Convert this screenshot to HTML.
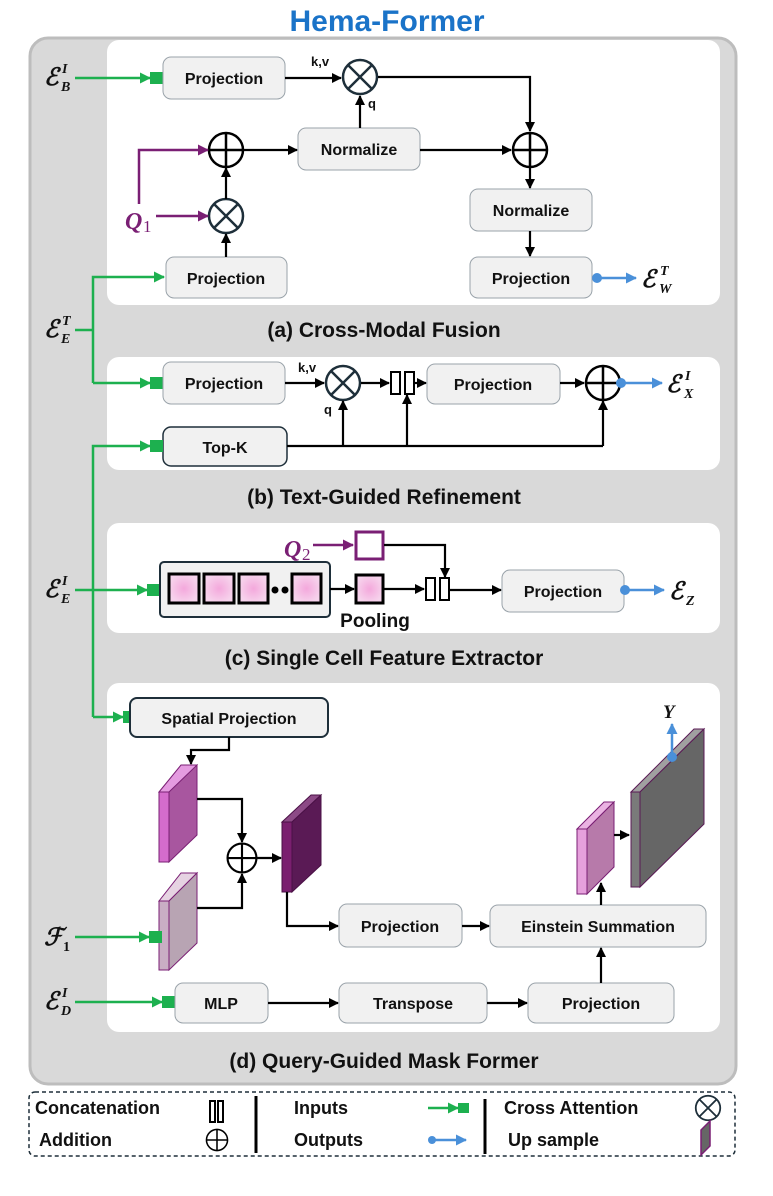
<!DOCTYPE html>
<html><head><meta charset="utf-8"><style>
html,body{margin:0;padding:0;background:#fff}
svg{display:block}
.b{font-family:"Liberation Sans",sans-serif;font-weight:bold;font-size:16px;fill:#111}
.t{font-family:"Liberation Sans",sans-serif;font-weight:bold;font-size:21px;fill:#111}
.m{font-family:"Liberation Serif",serif;font-weight:bold;font-style:italic;font-size:24px;fill:#111}
.ms{font-family:"Liberation Serif",serif;font-weight:bold;font-style:italic;font-size:14px;fill:#111}
.box{fill:#f1f1f1;stroke:#9aa3aa;stroke-width:1}
.ln{stroke:#000;stroke-width:2.2;fill:none}
.g{stroke:#1db04f;stroke-width:2.5;fill:none}
.p{stroke:#7a1f74;stroke-width:2.5;fill:none}
.bl{stroke:#4a90d9;stroke-width:2.5;fill:none}
</style></head><body>
<svg width="773" height="1196" viewBox="0 0 773 1196" xmlns="http://www.w3.org/2000/svg">
<defs>
<marker id="ak" markerWidth="10" markerHeight="10" refX="9" refY="5" orient="auto" markerUnits="userSpaceOnUse"><path d="M0,0L10,5L0,10z" fill="#000"/></marker>
<marker id="ag" markerWidth="11" markerHeight="11" refX="10" refY="5.5" orient="auto" markerUnits="userSpaceOnUse"><path d="M0,0L11,5.5L0,11z" fill="#1db04f"/></marker>
<marker id="ap" markerWidth="11" markerHeight="11" refX="10" refY="5.5" orient="auto" markerUnits="userSpaceOnUse"><path d="M0,0L11,5.5L0,11z" fill="#7a1f74"/></marker>
<marker id="ab" markerWidth="11" markerHeight="11" refX="10" refY="5.5" orient="auto" markerUnits="userSpaceOnUse"><path d="M0,0L11,5.5L0,11z" fill="#4a90d9"/></marker>
<radialGradient id="pk"><stop offset="0" stop-color="#f4a8dc"/><stop offset="1" stop-color="#f6d3ec"/></radialGradient>
<g id="otimes"><circle r="17" fill="none" stroke="#1e2f3a" stroke-width="2.5"/><path d="M-12,-12L12,12M12,-12L-12,12" stroke="#1e2f3a" stroke-width="2.5"/></g>
<g id="oplus"><circle r="17" fill="none" stroke="#000" stroke-width="2.5"/><path d="M-17,0H17M0,-17V17" stroke="#000" stroke-width="2.5"/></g>
<g id="cat"><rect x="0" y="0" width="9" height="22" fill="#fff" stroke="#000" stroke-width="2"/><rect x="14" y="0" width="9" height="22" fill="#fff" stroke="#000" stroke-width="2"/></g>
<rect id="gs" width="13" height="12" fill="#1db04f"/>
</defs>

<text x="387" y="31" text-anchor="middle" style="font-family:'Liberation Sans',sans-serif;font-weight:bold;font-size:30px;fill:#1a73c8">Hema-Former</text>
<rect x="30" y="38" width="706" height="1046" rx="18" fill="#d9d9d9" stroke="#bdbdbd" stroke-width="3"/>

<rect x="107" y="40" width="613" height="265" rx="12" fill="#fff"/>
<rect x="107" y="357" width="613" height="113" rx="12" fill="#fff"/>
<rect x="107" y="523" width="613" height="110" rx="12" fill="#fff"/>
<rect x="107" y="683" width="613" height="349" rx="12" fill="#fff"/>
<text class="t" x="384" y="337" text-anchor="middle">(a) Cross-Modal Fusion</text>
<text class="t" x="384" y="504" text-anchor="middle">(b) Text-Guided Refinement</text>
<text class="t" x="384" y="665" text-anchor="middle">(c) Single Cell Feature Extractor</text>
<text class="t" x="384" y="1068" text-anchor="middle">(d) Query-Guided Mask Former</text>

<!-- panel a -->
<text class="m" x="44" y="85">ℰ</text><text class="ms" x="62" y="73">I</text><text class="ms" x="61" y="91">B</text>
<line class="g" x1="75" y1="78" x2="150" y2="78" marker-end="url(#ag)"/>
<use href="#gs" x="150" y="72"/>
<rect class="box" x="163" y="57" width="122" height="42" rx="8"/>
<text class="b" x="224" y="84" text-anchor="middle">Projection</text>
<line class="ln" x1="285" y1="78" x2="341" y2="78" marker-end="url(#ak)"/>
<text class="b" x="311" y="66" style="font-size:13px">k,v</text>
<use href="#otimes" x="360" y="77"/>
<rect class="box" x="298" y="128" width="122" height="42" rx="8"/>
<text class="b" x="359" y="155" text-anchor="middle">Normalize</text>
<line class="ln" x1="360" y1="128" x2="360" y2="96" marker-end="url(#ak)"/>
<text class="b" x="368" y="108" style="font-size:13px">q</text>
<use href="#oplus" x="226" y="150"/>
<line class="ln" x1="243" y1="150" x2="297" y2="150" marker-end="url(#ak)"/>
<use href="#otimes" x="226" y="216"/>
<line class="ln" x1="226" y1="199" x2="226" y2="168" marker-end="url(#ak)"/>
<rect class="box" x="166" y="257" width="121" height="41" rx="8"/>
<text class="b" x="226" y="284" text-anchor="middle">Projection</text>
<line class="ln" x1="226" y1="257" x2="226" y2="234" marker-end="url(#ak)"/>
<text class="m" x="125" y="229" style="fill:#7a1f74">Q</text><text x="143" y="232" style="font-family:'Liberation Serif',serif;font-size:17px;fill:#7a1f74">1</text>
<line class="p" x1="156" y1="216" x2="208" y2="216" marker-end="url(#ap)"/>
<polyline class="p" points="139,204 139,150 208,150" marker-end="url(#ap)"/>
<polyline class="ln" points="378,77 530,77 530,131" marker-end="url(#ak)"/>
<line class="ln" x1="420" y1="150" x2="511" y2="150" marker-end="url(#ak)"/>
<use href="#oplus" x="530" y="150"/>
<line class="ln" x1="530" y1="167" x2="530" y2="188" marker-end="url(#ak)"/>
<rect class="box" x="470" y="189" width="122" height="42" rx="8"/>
<text class="b" x="531" y="216" text-anchor="middle">Normalize</text>
<line class="ln" x1="530" y1="231" x2="530" y2="256" marker-end="url(#ak)"/>
<rect class="box" x="470" y="257" width="122" height="41" rx="8"/>
<text class="b" x="531" y="284" text-anchor="middle">Projection</text>
<circle cx="597" cy="278" r="5" fill="#4a90d9"/>
<line class="bl" x1="597" y1="278" x2="636" y2="278" marker-end="url(#ab)"/>
<text class="m" x="641" y="287">ℰ</text><text class="ms" x="660" y="275">T</text><text class="ms" x="659" y="293">W</text>

<text class="m" x="44" y="337">ℰ</text><text class="ms" x="62" y="325">T</text><text class="ms" x="61" y="343">E</text>
<polyline class="g" points="75,330 93,330"/>
<polyline class="g" points="93,383 93,277 164,277" marker-end="url(#ag)"/>

<!-- panel b -->
<line class="g" x1="93" y1="383" x2="150" y2="383" marker-end="url(#ag)"/>
<use href="#gs" x="150" y="377"/>
<rect class="box" x="163" y="362" width="122" height="42" rx="8"/>
<text class="b" x="224" y="389" text-anchor="middle">Projection</text>
<line class="ln" x1="285" y1="383" x2="324" y2="383" marker-end="url(#ak)"/>
<text class="b" x="298" y="372" style="font-size:13px">k,v</text>
<use href="#otimes" x="343" y="383"/>
<text class="b" x="324" y="414" style="font-size:13px">q</text>
<line class="ln" x1="361" y1="383" x2="389" y2="383" marker-end="url(#ak)"/>
<use href="#cat" x="391" y="372"/>
<line class="ln" x1="414" y1="383" x2="426" y2="383" marker-end="url(#ak)"/>
<rect class="box" x="427" y="364" width="133" height="40" rx="8"/>
<text class="b" x="493" y="390" text-anchor="middle">Projection</text>
<line class="ln" x1="560" y1="383" x2="584" y2="383" marker-end="url(#ak)"/>
<use href="#oplus" x="603" y="383"/>
<circle cx="621" cy="383" r="5" fill="#4a90d9"/>
<line class="bl" x1="621" y1="383" x2="662" y2="383" marker-end="url(#ab)"/>
<text class="m" x="666" y="392">ℰ</text><text class="ms" x="685" y="380">I</text><text class="ms" x="684" y="398">X</text>
<rect class="box" x="163" y="427" width="124" height="39" rx="8" style="stroke:#1e2f3a;stroke-width:1.5"/>
<text class="b" x="225" y="453" text-anchor="middle">Top-K</text>
<line class="ln" x1="287" y1="446" x2="603" y2="446"/>
<line class="ln" x1="343" y1="446" x2="343" y2="401" marker-end="url(#ak)"/>
<line class="ln" x1="407" y1="446" x2="407" y2="395" marker-end="url(#ak)"/>
<line class="ln" x1="603" y1="446" x2="603" y2="401" marker-end="url(#ak)"/>
<polyline class="g" points="93,717 93,446 150,446" marker-end="url(#ag)"/>
<use href="#gs" x="150" y="440"/>

<!-- panel c -->
<text class="m" x="44" y="597">ℰ</text><text class="ms" x="62" y="585">I</text><text class="ms" x="61" y="603">E</text>
<line class="g" x1="75" y1="590" x2="147" y2="590" marker-end="url(#ag)"/>
<use href="#gs" x="147" y="584"/>
<rect x="160" y="562" width="170" height="55" rx="4" fill="#f1f1f1" stroke="#1e2f3a" stroke-width="2"/>
<rect x="169" y="574" width="30" height="29" fill="url(#pk)" stroke="#000" stroke-width="3"/>
<rect x="204" y="574" width="30" height="29" fill="url(#pk)" stroke="#000" stroke-width="3"/>
<rect x="239" y="574" width="29" height="29" fill="url(#pk)" stroke="#000" stroke-width="3"/>
<circle cx="275" cy="590" r="3.5" fill="#000"/><circle cx="285" cy="590" r="3.5" fill="#000"/>
<rect x="292" y="574" width="29" height="29" fill="url(#pk)" stroke="#000" stroke-width="3"/>
<line class="ln" x1="330" y1="589" x2="354" y2="589" marker-end="url(#ak)"/>
<rect x="356" y="575" width="27" height="28" fill="url(#pk)" stroke="#000" stroke-width="3"/>
<text class="b" x="375" y="627" text-anchor="middle" style="font-size:19px">Pooling</text>
<line class="ln" x1="384" y1="589" x2="424" y2="589" marker-end="url(#ak)"/>
<use href="#cat" x="426" y="578"/>
<text class="m" x="284" y="557" style="fill:#7a1f74">Q</text><text x="302" y="560" style="font-family:'Liberation Serif',serif;font-size:17px;fill:#7a1f74">2</text>
<line class="p" x1="313" y1="545" x2="353" y2="545" marker-end="url(#ap)"/>
<rect x="356" y="532" width="27" height="27" fill="#fff" stroke="#7a1f74" stroke-width="3"/>
<polyline class="ln" points="384,545 445,545 445,577" marker-end="url(#ak)"/>
<line class="ln" x1="450" y1="590" x2="501" y2="590" marker-end="url(#ak)"/>
<rect class="box" x="502" y="570" width="122" height="42" rx="8"/>
<text class="b" x="563" y="597" text-anchor="middle">Projection</text>
<circle cx="625" cy="590" r="5" fill="#4a90d9"/>
<line class="bl" x1="625" y1="590" x2="664" y2="590" marker-end="url(#ab)"/>
<text class="m" x="669" y="599">ℰ</text><text class="ms" x="686" y="605">Z</text>

<!-- panel d -->
<line class="g" x1="93" y1="717" x2="123" y2="717" marker-end="url(#ag)"/>
<use href="#gs" x="123" y="711"/>
<rect x="130" y="698" width="198" height="39" rx="7" fill="#f1f1f1" stroke="#1e2f3a" stroke-width="2"/>
<text class="b" x="229" y="724" text-anchor="middle">Spatial Projection</text>
<polyline class="ln" points="229,737 229,750 191,750 191,764" marker-end="url(#ak)"/>
<polygon points="159,792 181,765 197,765 175,792" fill="#e49be0" stroke="#7a1f74"/>
<polygon points="169,792 197,765 197,835 169,862" fill="#a8569f" stroke="#7a1f74"/>
<rect x="159" y="792" width="10" height="70" fill="#d46ccc" stroke="#7a1f74"/>
<polygon points="159,901 181,873 197,873 169,901" fill="#e6d3e2" stroke="#7a1f74"/>
<polygon points="169,901 197,873 197,943 169,970" fill="#b8a4b3" stroke="#7a1f74"/>
<rect x="159" y="901" width="10" height="69" fill="#c9aec4" stroke="#7a1f74"/>
<g transform="translate(242,858) scale(0.85)"><use href="#oplus"/></g>
<polyline class="ln" points="197,799 242,799 242,842" marker-end="url(#ak)"/>
<polyline class="ln" points="197,908 242,908 242,874" marker-end="url(#ak)"/>
<line class="ln" x1="256" y1="858" x2="281" y2="858" marker-end="url(#ak)"/>
<polygon points="282,822 311,795 321,795 292,822" fill="#8c4a86" stroke="#4a1046"/>
<polygon points="292,822 321,795 321,865 292,892" fill="#5a1a55" stroke="#4a1046"/>
<rect x="282" y="822" width="10" height="70" fill="#7a1f6f" stroke="#4a1046"/>
<polyline class="ln" points="287,892 287,926 338,926" marker-end="url(#ak)"/>
<rect class="box" x="339" y="904" width="123" height="43" rx="8"/>
<text class="b" x="400" y="932" text-anchor="middle">Projection</text>
<line class="ln" x1="462" y1="926" x2="489" y2="926" marker-end="url(#ak)"/>
<rect class="box" x="490" y="905" width="216" height="42" rx="8"/>
<text class="b" x="598" y="932" text-anchor="middle">Einstein Summation</text>
<line class="ln" x1="601" y1="905" x2="601" y2="883" marker-end="url(#ak)"/>
<polygon points="577,829 604,802 614,802 587,829" fill="#eab3e2" stroke="#7a1f74"/>
<polygon points="587,829 614,802 614,867 587,894" fill="#b77aaa" stroke="#7a1f74"/>
<rect x="577" y="829" width="10" height="65" fill="#e6a0dc" stroke="#7a1f74"/>
<line class="ln" x1="614" y1="835" x2="629" y2="835" marker-end="url(#ak)"/>
<polygon points="631,792 694,729 704,729 640,792" fill="#a0a0a0" stroke="#5a1a55"/>
<polygon points="640,792 704,729 704,824 640,887" fill="#666" stroke="#5a1a55"/>
<rect x="631" y="792" width="9" height="95" fill="#7a7a7a" stroke="#5a1a55"/>
<circle cx="672" cy="757" r="5" fill="#4a90d9"/>
<line class="bl" x1="672" y1="757" x2="672" y2="724" marker-end="url(#ab)"/>
<text class="m" x="663" y="718" style="font-size:19px">Y</text>

<text class="m" x="44" y="945">ℱ</text><text class="ms" x="63" y="951" style="font-style:normal">1</text>
<line class="g" x1="75" y1="937" x2="149" y2="937" marker-end="url(#ag)"/>
<use href="#gs" x="149" y="931"/>
<text class="m" x="44" y="1009">ℰ</text><text class="ms" x="62" y="997">I</text><text class="ms" x="61" y="1015">D</text>
<line class="g" x1="75" y1="1002" x2="162" y2="1002" marker-end="url(#ag)"/>
<use href="#gs" x="162" y="996"/>
<rect class="box" x="175" y="983" width="93" height="40" rx="8"/>
<text class="b" x="221" y="1009" text-anchor="middle">MLP</text>
<line class="ln" x1="268" y1="1003" x2="338" y2="1003" marker-end="url(#ak)"/>
<rect class="box" x="339" y="983" width="148" height="40" rx="8"/>
<text class="b" x="413" y="1009" text-anchor="middle">Transpose</text>
<line class="ln" x1="487" y1="1003" x2="527" y2="1003" marker-end="url(#ak)"/>
<rect class="box" x="528" y="983" width="146" height="40" rx="8"/>
<text class="b" x="601" y="1009" text-anchor="middle">Projection</text>
<line class="ln" x1="601" y1="983" x2="601" y2="948" marker-end="url(#ak)"/>

<!-- legend -->
<rect x="29" y="1092" width="706" height="64" rx="6" fill="#fff" stroke="#1e2f3a" stroke-width="1.5" stroke-dasharray="4,3"/>
<text class="b" x="35" y="1114" style="font-size:18px">Concatenation</text>
<rect x="210" y="1101" width="5" height="21" fill="#fff" stroke="#000" stroke-width="2"/>
<rect x="218" y="1101" width="5" height="21" fill="#fff" stroke="#000" stroke-width="2"/>
<text class="b" x="39" y="1146" style="font-size:18px">Addition</text>
<g transform="translate(217,1140) scale(0.62)"><use href="#oplus"/></g>
<line x1="256" y1="1096" x2="256" y2="1153" stroke="#000" stroke-width="3"/>
<text class="b" x="294" y="1114" style="font-size:18px">Inputs</text>
<line class="g" x1="428" y1="1108" x2="458" y2="1108" stroke-width="3" marker-end="url(#ag)"/>
<rect x="458" y="1103" width="11" height="10" fill="#1db04f"/>
<text class="b" x="294" y="1146" style="font-size:18px">Outputs</text>
<circle cx="432" cy="1140" r="4" fill="#4a90d9"/>
<line class="bl" x1="432" y1="1140" x2="466" y2="1140" marker-end="url(#ab)"/>
<line x1="485" y1="1099" x2="485" y2="1154" stroke="#000" stroke-width="3"/>
<text class="b" x="504" y="1114" style="font-size:18px">Cross Attention</text>
<g transform="translate(708,1108) scale(0.72)"><use href="#otimes"/></g>
<text class="b" x="508" y="1146" style="font-size:18px">Up sample</text>
<polygon points="701,1130 710,1121 710,1146 701,1155" fill="#666" stroke="#7a1f74" stroke-width="1.5"/>
</svg>
</body></html>
